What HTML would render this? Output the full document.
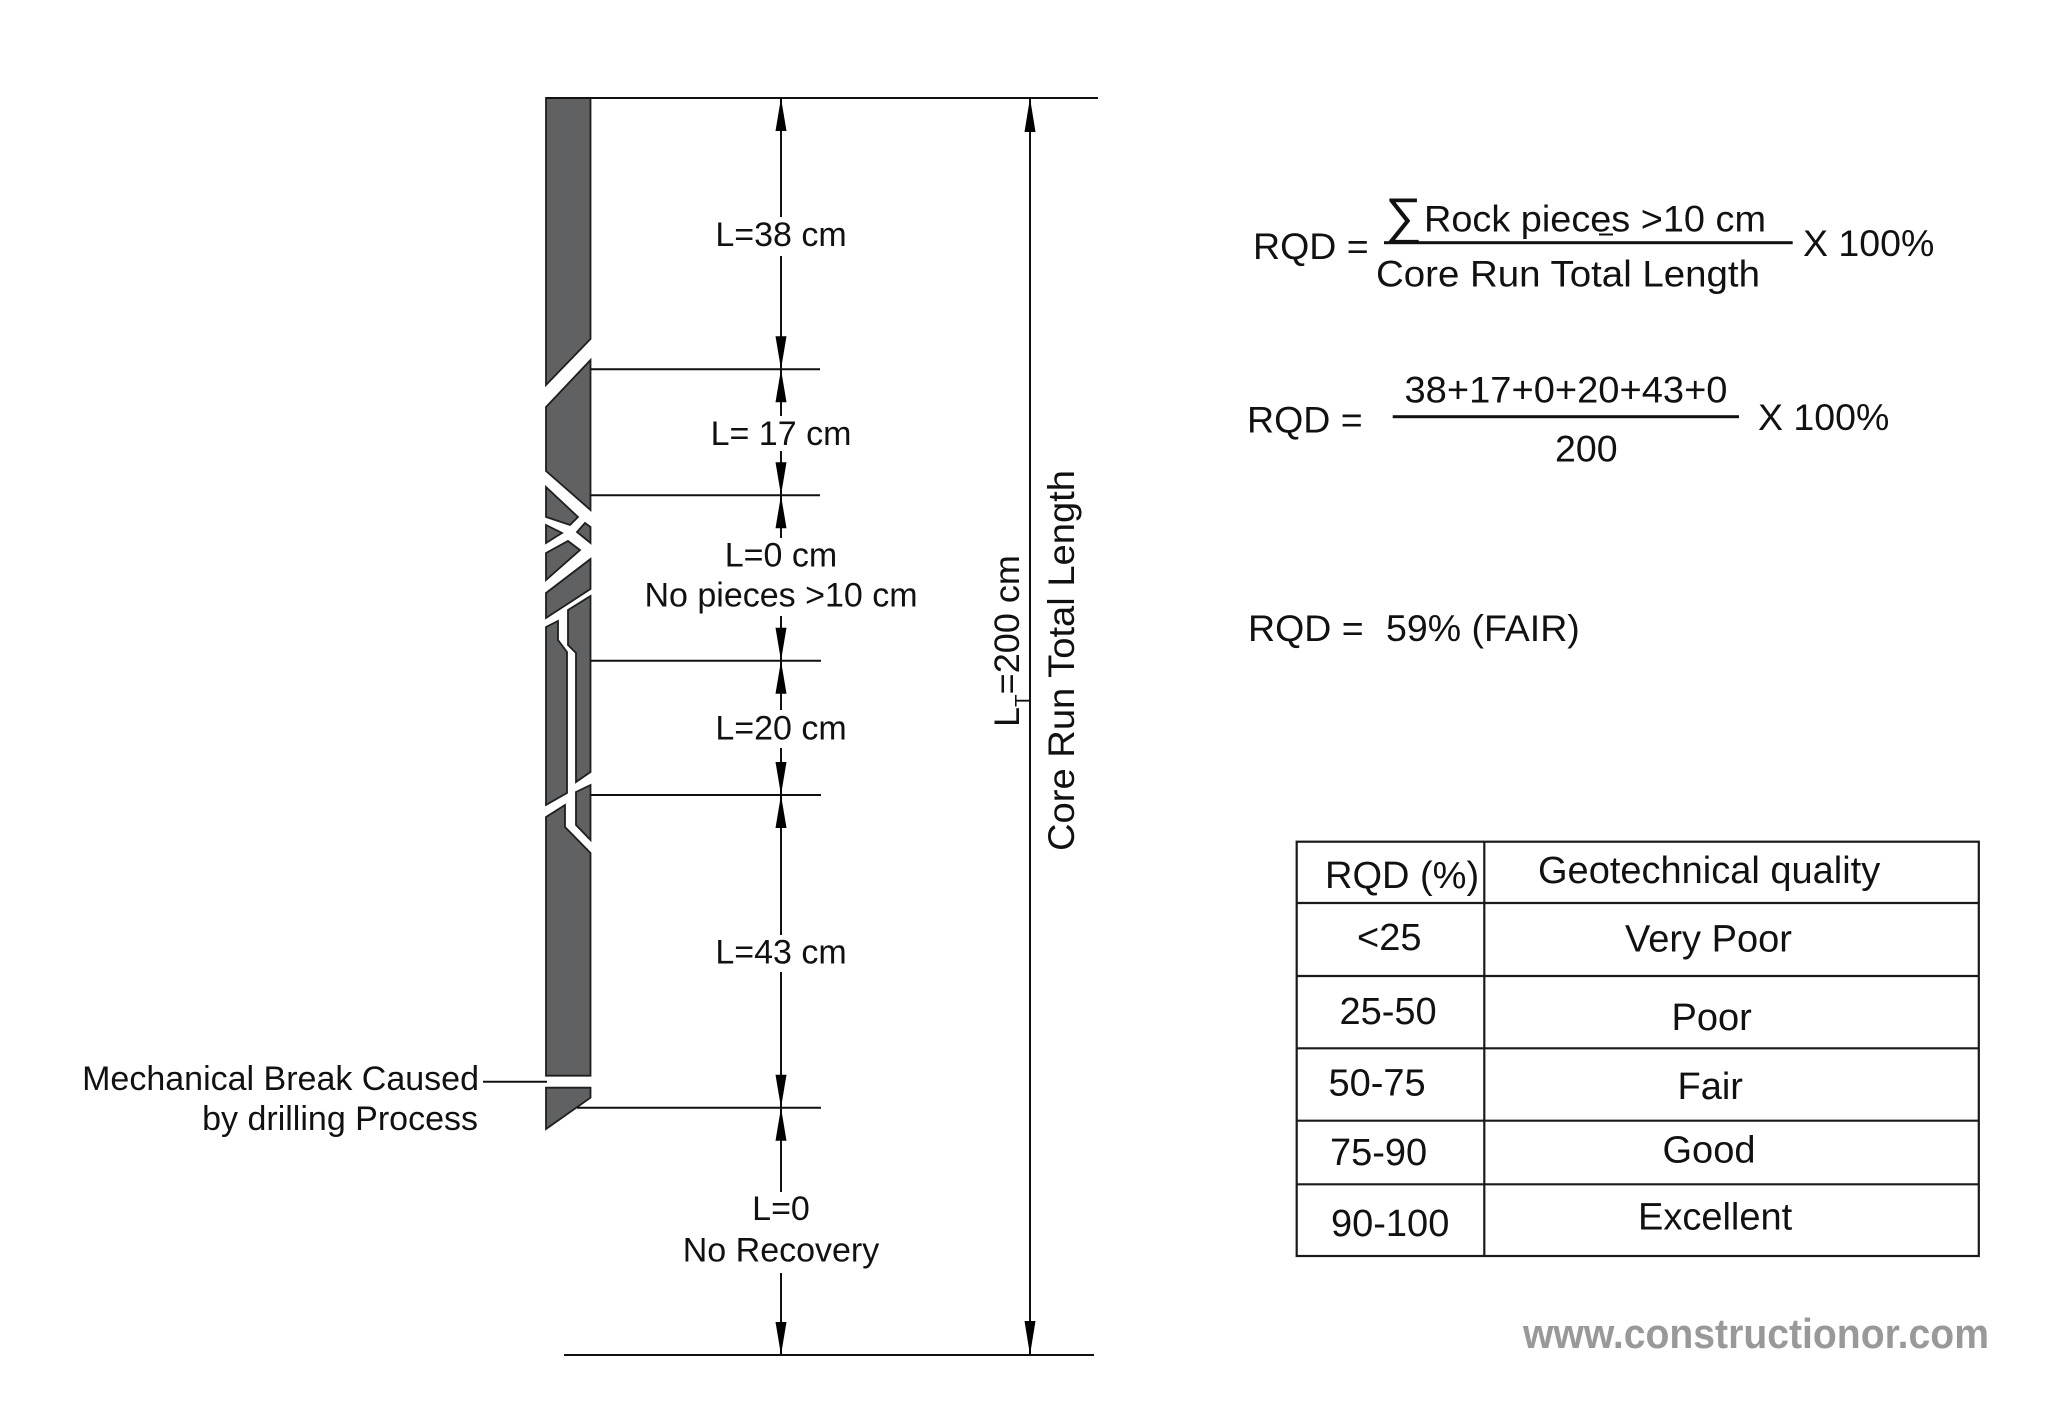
<!DOCTYPE html>
<html>
<head>
<meta charset="utf-8">
<style>
html,body{margin:0;padding:0;background:#ffffff;}
svg{display:block;}
</style>
</head>
<body>
<svg width="2048" height="1403" viewBox="0 0 2048 1403" xmlns="http://www.w3.org/2000/svg" font-family="'Liberation Sans', Arial, sans-serif">
<rect x="0" y="0" width="2048" height="1403" fill="#ffffff"/>

<!-- ===== Core column pieces ===== -->
<g fill="#5f6162" stroke="#1e1e1e" stroke-width="1.8" stroke-linejoin="miter">
  <polygon points="546,98 590.5,98 590.5,339 546,385"/>
  <polygon points="546,407 590.5,360 590.5,510 546,471"/>
  <polygon points="546,487 578,517 570,525 546,517"/>
  <polygon points="546,525 562,533 546,543"/>
  <polygon points="585,523 590.5,527 590.5,543 577,532"/>
  <polygon points="546,553 568,541 580,550 546,580"/>
  <polygon points="546,593 590.5,559 590.5,589 546,618"/>
  <polygon points="568,610 590.5,596 590.5,772 576,782 576,653 568,645"/>
  <polygon points="546,627 558,621 558,640 567,652 567,793 546,805"/>
  <polygon points="576,792 590.5,785 590.5,840 576,825"/>
  <polygon points="546,817 565,805 565,827 590.5,853 590.5,1075.7 546,1075.7"/>
  <polygon points="546,1087.7 590.5,1087.7 590.5,1097.7 546,1129"/>
</g>

<!-- ===== Lines ===== -->
<g stroke="#111" stroke-width="2" fill="none">
  <path d="M546 98 H1098"/>
  <path d="M564 1355 H1094"/>
  <path d="M781 98 V1355"/>
  <path d="M1030 98 V1355"/>
  <path d="M590.7 369.3 H820"/>
  <path d="M590.7 495.3 H820"/>
  <path d="M590.7 660.7 H821"/>
  <path d="M590.7 795 H821"/>
  <path d="M577 1107.7 H821"/>
  <path d="M483 1081.7 H547"/>
</g>

<!-- ===== White gaps behind dimension labels ===== -->
<g fill="#ffffff">
  <rect x="712" y="217" width="138" height="39"/>
  <rect x="708" y="416" width="146" height="35"/>
  <rect x="640" y="538" width="282" height="78"/>
  <rect x="712" y="710" width="138" height="38"/>
  <rect x="712" y="935" width="138" height="37"/>
  <rect x="676" y="1192" width="210" height="81"/>
</g>

<!-- ===== Arrowheads ===== -->
<g fill="#000">
  <path d="M781 98 L775.5 131 L786.5 131 Z"/>
  <path d="M781 369.3 L775.5 336.3 L786.5 336.3 Z"/>
  <path d="M781 369.3 L775.5 402.3 L786.5 402.3 Z"/>
  <path d="M781 495.3 L775.5 462.3 L786.5 462.3 Z"/>
  <path d="M781 495.3 L775.5 528.3 L786.5 528.3 Z"/>
  <path d="M781 660.7 L775.5 627.7 L786.5 627.7 Z"/>
  <path d="M781 660.7 L775.5 693.7 L786.5 693.7 Z"/>
  <path d="M781 795 L775.5 762 L786.5 762 Z"/>
  <path d="M781 795 L775.5 828 L786.5 828 Z"/>
  <path d="M781 1107.7 L775.5 1074.7 L786.5 1074.7 Z"/>
  <path d="M781 1107.7 L775.5 1140.7 L786.5 1140.7 Z"/>
  <path d="M781 1355 L775.5 1322 L786.5 1322 Z"/>
  <path d="M1030 98 L1024.5 132 L1035.5 132 Z"/>
  <path d="M1030 1355 L1024.5 1321 L1035.5 1321 Z"/>
</g>

<!-- ===== Dimension labels ===== -->
<g font-size="34" fill="#111" text-anchor="middle">
  <text x="781" y="246">L=38 cm</text>
  <text x="781" y="445">L= 17 cm</text>
  <text x="781" y="566.7">L=0 cm</text>
  <text x="781" y="606.7">No pieces &gt;10 cm</text>
  <text x="781" y="739.3">L=20 cm</text>
  <text x="781" y="963.3">L=43 cm</text>
  <text x="781" y="1220">L=0</text>
  <text x="781" y="1261.5">No Recovery</text>
</g>

<g font-size="34" fill="#111" text-anchor="end">
  <text x="479" y="1090">Mechanical Break Caused</text>
  <text x="478" y="1130">by drilling Process</text>
</g>

<!-- ===== Vertical texts ===== -->
<text transform="translate(1019,727) rotate(-90)" font-size="35" fill="#111" textLength="172" lengthAdjust="spacingAndGlyphs">L<tspan font-size="20" dy="10">T</tspan><tspan dy="-10">=200 cm</tspan></text>
<text transform="translate(1074,851) rotate(-90)" font-size="37" fill="#111" textLength="381" lengthAdjust="spacingAndGlyphs">Core Run Total Length</text>

<!-- ===== Formula 1 ===== -->
<g fill="#111">
  <text x="1253" y="259" font-size="37.5">RQD =</text>
  <text x="1385" y="233" font-size="50" textLength="37" lengthAdjust="spacingAndGlyphs">∑</text>
  <text x="1424" y="231.7" font-size="37.5" textLength="342" lengthAdjust="spacingAndGlyphs">Rock pieces &gt;10 cm</text>
  <rect x="1599" y="233.5" width="14" height="2"/>
  <rect x="1384" y="241.2" width="408.7" height="3"/>
  <text x="1376" y="286.7" font-size="37.5" textLength="384" lengthAdjust="spacingAndGlyphs">Core Run Total Length</text>
  <text x="1803" y="256" font-size="37.5">X 100%</text>
</g>

<!-- ===== Formula 2 ===== -->
<g fill="#111">
  <text x="1247" y="432.3" font-size="37.5">RQD =</text>
  <text x="1404.5" y="402.3" font-size="37.5" textLength="323" lengthAdjust="spacingAndGlyphs">38+17+0+20+43+0</text>
  <rect x="1392.7" y="415.2" width="346.3" height="3"/>
  <text x="1555" y="461.7" font-size="37.5">200</text>
  <text x="1758" y="430" font-size="37.5">X 100%</text>
</g>

<!-- ===== Formula 3 ===== -->
<g fill="#111">
  <text x="1248" y="641" font-size="37.5">RQD =</text>
  <text x="1386" y="641" font-size="37.5">59% (FAIR)</text>
</g>

<!-- ===== Table ===== -->
<g stroke="#1a1a1a" stroke-width="2.2" fill="none">
  <rect x="1296.7" y="841.7" width="682.1" height="414.3"/>
  <path d="M1484.3 841.7 V1256"/>
  <path d="M1296.7 903 H1978.8"/>
  <path d="M1296.7 976 H1978.8"/>
  <path d="M1296.7 1048.3 H1978.8"/>
  <path d="M1296.7 1120.7 H1978.8"/>
  <path d="M1296.7 1184.3 H1978.8"/>
</g>
<g font-size="38" fill="#111">
  <text x="1325" y="888">RQD (%)</text>
  <text x="1538" y="883">Geotechnical quality</text>
  <text x="1357" y="950">&lt;25</text>
  <text x="1625" y="951.5">Very Poor</text>
  <text x="1339.5" y="1024">25-50</text>
  <text x="1671.5" y="1030">Poor</text>
  <text x="1328.5" y="1095.7">50-75</text>
  <text x="1677.5" y="1099">Fair</text>
  <text x="1330" y="1165">75-90</text>
  <text x="1662.5" y="1162.7">Good</text>
  <text x="1331" y="1236">90-100</text>
  <text x="1638" y="1229.5">Excellent</text>
</g>

<!-- ===== Watermark ===== -->
<text x="1523" y="1348" font-size="42" font-weight="bold" fill="#999999" textLength="466" lengthAdjust="spacingAndGlyphs">www.constructionor.com</text>
</svg>
</body>
</html>
